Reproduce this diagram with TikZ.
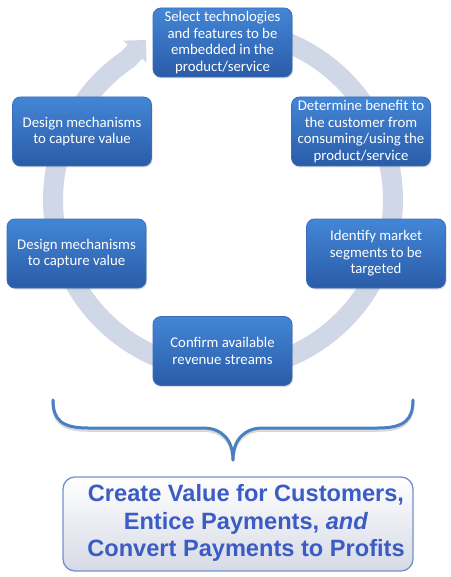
\documentclass[tikz,border=0pt]{standalone}
\usepackage{fontspec}
\setmainfont{Carlito}
\newfontfamily\arialfont{Liberation Sans}
\usetikzlibrary{arrows.meta,shadows}
\definecolor{band}{HTML}{D0D7E6}
\definecolor{boxtop}{HTML}{4386D6}
\definecolor{boxbot}{HTML}{2A5CA8}
\definecolor{boxline}{HTML}{3B6DB8}
\definecolor{bracecol}{HTML}{4A7FC2}
\definecolor{titlecol}{HTML}{3A5CC4}
\definecolor{titleline}{HTML}{7390D0}
\definecolor{titlebot}{HTML}{D6DAE5}
\begin{document}
\begin{tikzpicture}[x=1pt,y=-1pt,
  stepbox/.style={rounded corners=8pt, top color=boxtop, bottom color=boxbot,
    draw=boxline, line width=0.8pt, text=white, align=center,
    minimum width=139pt, minimum height=69pt, inner sep=0pt,
    font=\fontsize{14.8}{16.6}\selectfont,
    drop shadow={opacity=0.25,shadow xshift=1pt,shadow yshift=-1.5pt}},
  titlebox/.style={rounded corners=12pt, top color=white, bottom color=titlebot,
    draw=titleline, line width=1.3pt, minimum width=350pt, minimum height=94pt,
    inner sep=0pt},
  titletext/.style={text=titlecol, align=center, inner sep=0pt,
    font=\arialfont\bfseries\fontsize{23.6}{27.5}\selectfont},
  bandline/.style={draw=band, line width=20pt},
  bracestyle/.style={draw=bracecol, line width=3pt, line cap=round, line join=round}
]
\useasboundingbox (0,0) rectangle (450,577);

% circular band with arrow
\coordinate (c) at (223,200);
\coordinate (tip) at (146,40);
\draw[bandline, -{Triangle[width=31pt,length=16pt]}]
  (c) ++(-90:170) arc[start angle=-90, end angle=236, radius=170] -- (tip);

% boxes
\node[stepbox] (t)  at (222.5,42.5) {Select technologies\\and features to be\\embedded in the\\product/service};
\node[stepbox] (ur) at (361,131.5) {Determine benefit to\\the customer from\\consuming/using the\\product/service};
\node[stepbox] (lr) at (376,253.5) {Identify market\\segments to be\\targeted};
\node[stepbox] (b)  at (222.5,351) {Confirm available\\revenue streams};
\node[stepbox] (ll) at (76.5,253.5) {Design mechanisms\\to capture value};
\node[stepbox] (ul) at (82,131.5) {Design mechanisms\\to capture value};

% brace
\coordinate (bl) at (53,400);
\coordinate (br) at (413,400);
\coordinate (bt) at (233,460);
\draw[bracestyle, draw=black, opacity=0.15, line width=3.5pt, yshift=-2pt]
  (bl) .. controls (53,420) and (62,428) .. (88,428) -- (203,428)
  .. controls (222,428) and (233,440) .. (bt)
  .. controls (233,440) and (244,428) .. (263,428) -- (378,428)
  .. controls (404,428) and (413,420) .. (br);
\draw[bracestyle]
  (bl) .. controls (53,420) and (62,428) .. (88,428) -- (203,428)
  .. controls (222,428) and (233,440) .. (bt)
  .. controls (233,440) and (244,428) .. (263,428) -- (378,428)
  .. controls (404,428) and (413,420) .. (br);

% title
\node[titlebox] (tb) at (238,524) {};
\node[titletext] (tt) at (246,523) {Create Value for Customers,\\Entice Payments, \textit{and}\\Convert Payments to Profits};
\end{tikzpicture}
\end{document}
